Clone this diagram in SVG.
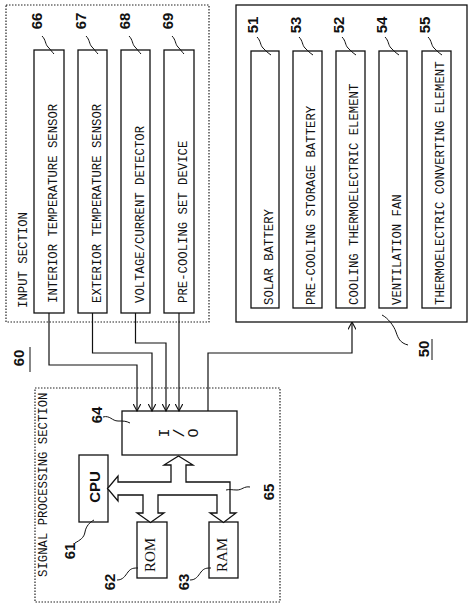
<svg xmlns="http://www.w3.org/2000/svg" width="474" height="608" viewBox="0 0 474 608">
<defs>
<style>
.dot{fill:none;stroke:#222;stroke-width:1.2;stroke-dasharray:1.5 1.5}
.box{fill:#fff;stroke:#111;stroke-width:1.3}
.ln{fill:none;stroke:#111;stroke-width:1.2}
.ld{fill:none;stroke:#111;stroke-width:1}
.t{font-family:"Liberation Mono",monospace;font-size:12.3px;fill:#111}
.n{font-family:"Liberation Sans",Arial,sans-serif;font-size:15px;font-weight:bold;fill:#111;text-anchor:middle;dominant-baseline:central}
.big{font-family:"Liberation Sans",Arial,sans-serif;font-size:15px;font-weight:bold;fill:#111;text-anchor:middle;dominant-baseline:central}
.ser{font-family:"Liberation Serif","Times New Roman",serif;font-size:15px;fill:#111;text-anchor:middle;dominant-baseline:central}
.io{font-family:"Liberation Mono",monospace;font-size:15px;fill:#111;text-anchor:middle;dominant-baseline:central}
</style>
<marker id="ah" viewBox="0 0 8 8" refX="7.5" refY="4" markerWidth="8" markerHeight="8" markerUnits="userSpaceOnUse" orient="auto">
<path d="M0,0 L7.5,4 L0,8" fill="none" stroke="#111" stroke-width="1.1"/>
</marker>
</defs>
<rect width="474" height="608" fill="#fff"/>

<!-- Input section -->
<g id="input-section">
<rect class="dot" x="6" y="5" width="203" height="317"/>
<text class="t" transform="translate(27,308) rotate(-90)">INPUT SECTION</text>
</g>
<g id="n66">
<rect class="box" x="34" y="50" width="30" height="263"/>
<text class="t" transform="translate(57,303) rotate(-90)">INTERIOR TEMPERATURE SENSOR</text>
<text class="n" transform="translate(36,21) rotate(-90)">66</text>
<path class="ld" d="M42,36 C46,40 45,44 48,47 S52,52 54,54"/>
</g>
<g id="n67">
<rect class="box" x="78" y="50" width="29" height="263"/>
<text class="t" transform="translate(101,303) rotate(-90)">EXTERIOR TEMPERATURE SENSOR</text>
<text class="n" transform="translate(80,21) rotate(-90)">67</text>
<path class="ld" d="M86,36 C90,40 89,44 92,47 S96,52 98,54"/>
</g>
<g id="n68">
<rect class="box" x="121" y="50" width="29" height="263"/>
<text class="t" transform="translate(144,303) rotate(-90)">VOLTAGE/CURRENT DETECTOR</text>
<text class="n" transform="translate(124,21) rotate(-90)">68</text>
<path class="ld" d="M129,36 C133,40 132,44 135,47 S139,52 141,54"/>
</g>
<g id="n69">
<rect class="box" x="164" y="50" width="30" height="263"/>
<text class="t" transform="translate(187,303) rotate(-90)">PRE-COOLING SET DEVICE</text>
<text class="n" transform="translate(167,21) rotate(-90)">69</text>
<path class="ld" d="M172,36 C176,40 175,44 178,47 S182,52 184,54"/>
</g>

<!-- Output section 50 -->
<g id="n50">
<rect class="box" x="236" y="5" width="231" height="317" fill="none"/>
<text class="n" transform="translate(423,349) rotate(-90)">50</text>
<line class="ld" x1="432" y1="339" x2="432" y2="360"/>
<path class="ld" d="M408,345 C400,343 398,338 396,332 S388,318 382,315"/>
</g>
<g id="n51">
<rect class="box" x="251" y="51" width="28" height="257"/>
<text class="t" transform="translate(273,305) rotate(-90)">SOLAR BATTERY</text>
<text class="n" transform="translate(252,25) rotate(-90)">51</text>
<path class="ld" d="M257,37 C261,41 260,45 263,48 S268,53 271,55"/>
</g>
<g id="n53">
<rect class="box" x="293" y="51" width="29" height="257"/>
<text class="t" transform="translate(315,305) rotate(-90)">PRE-COOLING STORAGE BATTERY</text>
<text class="n" transform="translate(295,25) rotate(-90)">53</text>
<path class="ld" d="M299,37 C303,41 302,45 305,48 S310,53 313,55"/>
</g>
<g id="n52">
<rect class="box" x="336" y="51" width="29" height="257"/>
<text class="t" transform="translate(358,305) rotate(-90)">COOLING THERMOELECTRIC ELEMENT</text>
<text class="n" transform="translate(338,25) rotate(-90)">52</text>
<path class="ld" d="M342,37 C346,41 345,45 348,48 S353,53 356,55"/>
</g>
<g id="n54">
<rect class="box" x="379" y="51" width="28" height="257"/>
<text class="t" transform="translate(401,305) rotate(-90)">VENTILATION FAN</text>
<text class="n" transform="translate(381,25) rotate(-90)">54</text>
<path class="ld" d="M385,37 C389,41 388,45 391,48 S396,53 399,55"/>
</g>
<g id="n55">
<rect class="box" x="422" y="51" width="29" height="257"/>
<text class="t" transform="translate(444,305) rotate(-90)">THERMOELECTRIC CONVERTING ELEMENT</text>
<text class="n" transform="translate(424,25) rotate(-90)">55</text>
<path class="ld" d="M428,37 C432,41 431,45 434,48 S439,53 442,55"/>
</g>

<!-- 60 label -->
<g id="n60">
<text class="n" transform="translate(18,358) rotate(-90)">60</text>
<line class="ld" x1="30" y1="347" x2="30" y2="372"/>
</g>

<!-- Signal processing section -->
<g id="signal-section">
<rect class="dot" x="35" y="388" width="245" height="214"/>
<text class="t" transform="translate(47,577) rotate(-90)">SIGNAL PROCESSING SECTION</text>
</g>
<g id="n64">
<rect class="box" x="122" y="411" width="115" height="44"/>
<text class="io" transform="translate(165,433) rotate(-90)">I</text>
<text class="io" transform="translate(180,433) rotate(-90)">/</text>
<text class="io" transform="translate(194,433) rotate(-90)">O</text>
<text class="n" transform="translate(96,415) rotate(-90)">64</text>
<path class="ld" d="M103,417 C110,415 112,421 118,421 S126,421 130,423"/>
</g>
<g id="n61">
<rect class="box" x="79" y="455" width="29" height="67"/>
<text class="big" transform="translate(94,487) rotate(-90)">CPU</text>
<text class="n" transform="translate(69,551) rotate(-90)">61</text>
<path class="ld" d="M75,543 C80,540 84,538 85,532 S90,522 94,520"/>
</g>
<g id="n62">
<rect class="box" x="137" y="522" width="30" height="56"/>
<text class="ser" transform="translate(150,555) rotate(-90)">ROM</text>
<text class="n" transform="translate(109,582) rotate(-90)">62</text>
<path class="ld" d="M117,580 C123,580 125,576 128,572 S134,568 138,568"/>
</g>
<g id="n63">
<rect class="box" x="209" y="522" width="29" height="56"/>
<text class="ser" transform="translate(222,555) rotate(-90)">RAM</text>
<text class="n" transform="translate(183,582) rotate(-90)">63</text>
<path class="ld" d="M190,580 C196,580 198,576 201,572 S207,568 211,568"/>
</g>
<g id="n65">
<polygon class="box" points="178.5,456 193,465 186,465 186,482 230,482 230,513 236,513 223.5,522.5 210,513 217,513 217,495 158,495 158,513 164,513 150.5,522.5 137,513 143,513 143,495 118,495 118,501 107.5,488.5 118,476 118,482 171,482 171,465 164,465"/>
<text class="n" transform="translate(268,492) rotate(-90)">65</text>
<path class="ld" d="M250,487 C244,486 242,490 237,490 S230,489 226,490"/>
</g>

<!-- Connectors -->
<g id="connectors">
<path class="ln" d="M49,313 V365 H137 V411" marker-end="url(#ah)"/>
<path class="ln" d="M92.5,313 V353 H152 V411" marker-end="url(#ah)"/>
<path class="ln" d="M135.5,313 V343 H166 V411" marker-end="url(#ah)"/>
<path class="ln" d="M179,313 V411" marker-end="url(#ah)"/>
<path class="ln" d="M208,411 V353 H352 V322" marker-end="url(#ah)"/>
</g>
</svg>
